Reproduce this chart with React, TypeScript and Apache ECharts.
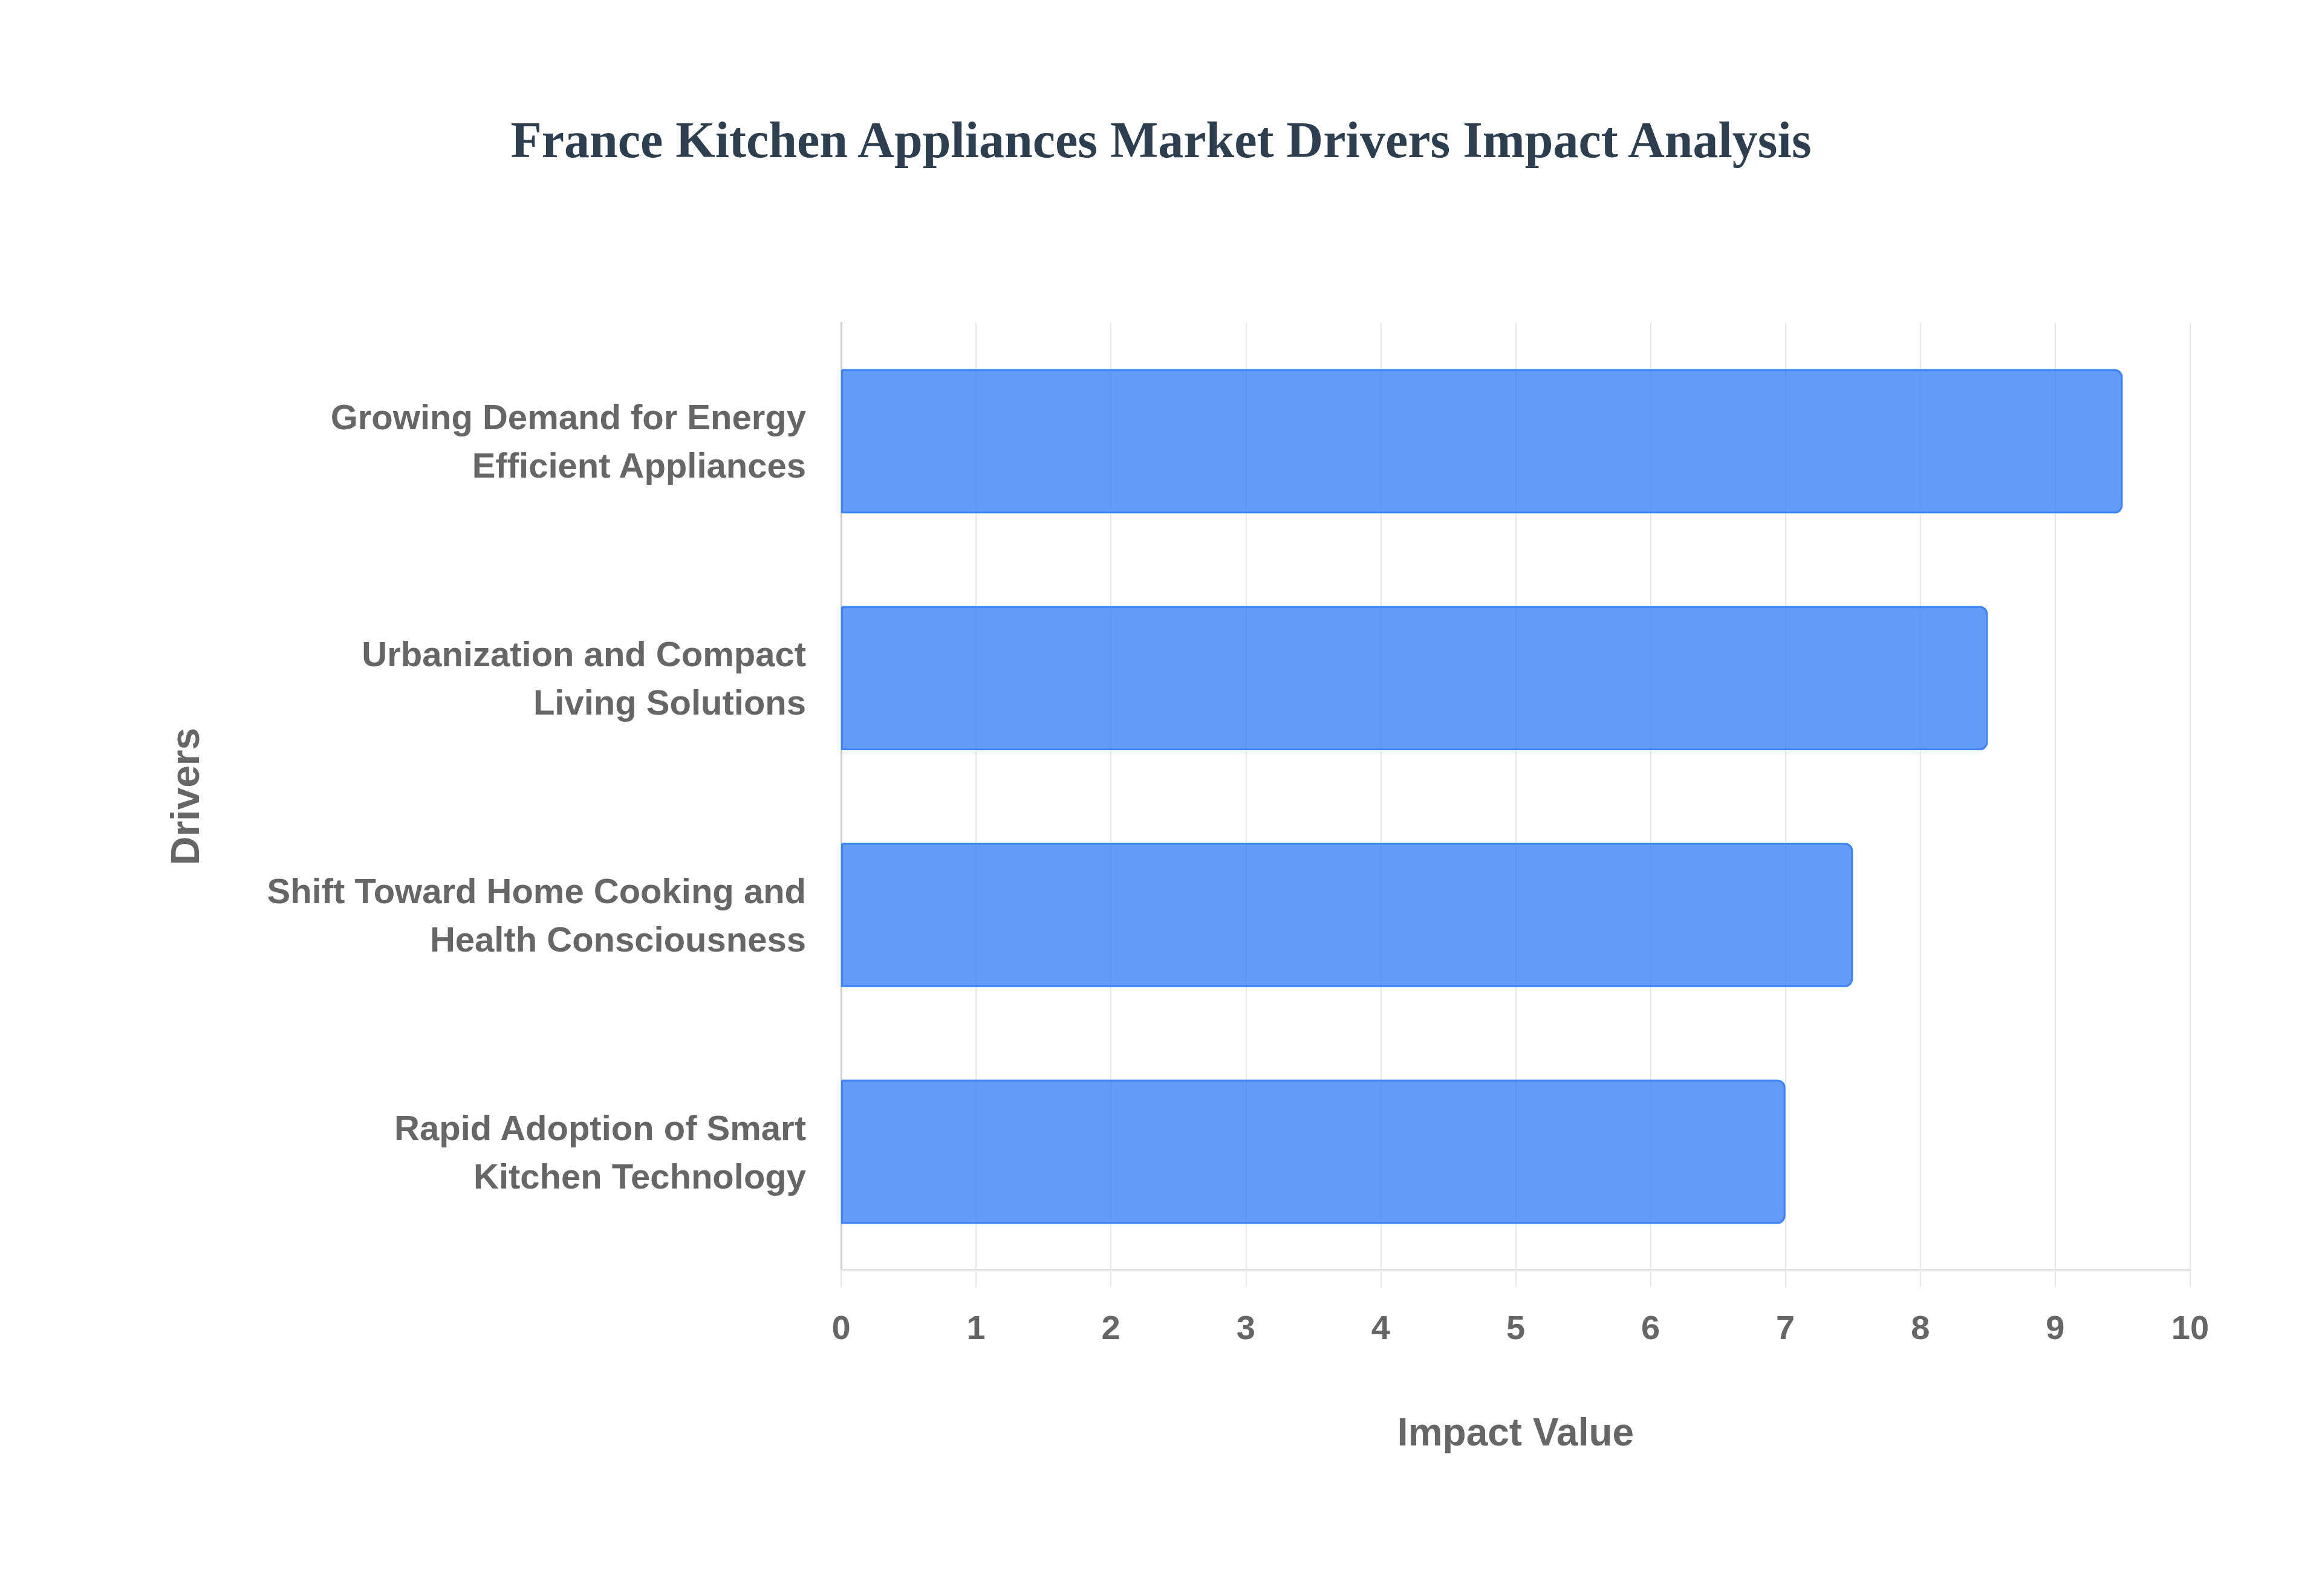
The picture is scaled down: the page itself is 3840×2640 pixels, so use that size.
import React, { useEffect, useRef } from "react";
import * as echarts from "echarts";

const drivers = [
    "Growing Demand for Energy\nEfficient Appliances",
    "Urbanization and Compact\nLiving Solutions",
    "Shift Toward Home Cooking and\nHealth Consciousness",
    "Rapid Adoption of Smart\nKitchen Technology",
];
const impactValues = [9.5, 8.5, 7.5, 7.0];

const chartTitle = "France Kitchen Appliances Market Drivers Impact Analysis";
const xAxisName = "Impact Value";
const yAxisName = "Drivers";

const labelFont = "Liberation Sans, Arial, sans-serif";

const App = () => {
    const chartRef = useRef(null);

    useEffect(() => {
        document.body.style.margin = "0";
        if (!chartRef.current) return;

        const chart = echarts.init(chartRef.current, null, { renderer: "svg" });

        const options = {
            animation: false,
            backgroundColor: "#ffffff",
            title: {
                text: chartTitle,
                left: "center",
                top: 184,
                textStyle: {
                    fontFamily: "Liberation Serif, Times New Roman, serif",
                    fontWeight: "bold",
                    fontSize: 84,
                    color: "#2c3e50",
                },
            },
            grid: { left: 1391, right: 218, top: 534, bottom: 539, containLabel: false },
            xAxis: {
                type: "value",
                min: 0,
                max: 10,
                interval: 1,
                name: xAxisName,
                nameLocation: "middle",
                nameGap: 236,
                nameTextStyle: {
                    fontFamily: labelFont,
                    fontWeight: "bold",
                    fontSize: 64,
                    color: "#666666",
                },
                axisLine: { show: true, lineStyle: { color: "#e3e3e3", width: 4 } },
                axisTick: { show: true, length: 28, lineStyle: { color: "#e8e8e8", width: 2 } },
                axisLabel: {
                    margin: 66,
                    fontFamily: labelFont,
                    fontWeight: "bold",
                    fontSize: 56,
                    color: "#666666",
                },
                splitLine: { show: true, lineStyle: { color: "#e8e8e8", width: 2 } },
            },
            yAxis: {
                type: "category",
                data: drivers,
                inverse: true,
                name: yAxisName,
                nameLocation: "middle",
                nameGap: 1052,
                nameRotate: 90,
                nameTextStyle: {
                    fontFamily: labelFont,
                    fontWeight: "bold",
                    fontSize: 66,
                    color: "#666666",
                },
                axisLine: { show: true, lineStyle: { color: "#cccccc", width: 3 } },
                axisTick: { show: false },
                axisLabel: {
                    margin: 58,
                    fontFamily: labelFont,
                    fontWeight: "bold",
                    fontSize: 58,
                    lineHeight: 80,
                    color: "#666666",
                    align: "right",
                },
                splitLine: { show: false },
            },
            series: [
                {
                    name: "Impact",
                    type: "bar",
                    data: impactValues,
                    barWidth: "61%",
                    itemStyle: {
                        color: "rgba(59, 130, 246, 0.8)",
                        borderColor: "#3b82f6",
                        borderWidth: 3,
                        borderRadius: [0, 12, 12, 0],
                    },
                },
            ],
        };

        chart.setOption(options);
        return () => chart.dispose();
    }, []);

    return <div ref={chartRef} style={{ width: "3840px", height: "2640px" }} />;
};

export default App;
